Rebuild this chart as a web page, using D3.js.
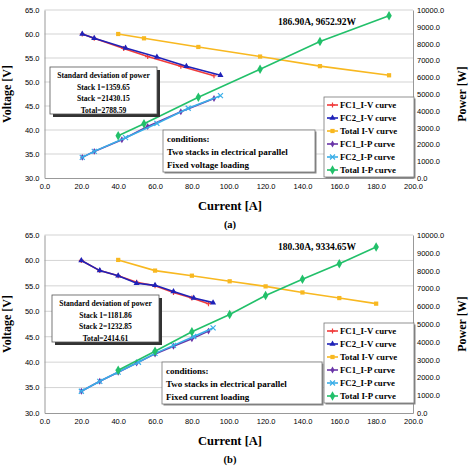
<!DOCTYPE html>
<html><head><meta charset="utf-8">
<script src="https://cdn.jsdelivr.net/npm/d3@7"></script>
<style>body{margin:0;background:#fff}</style>
</head><body>
<svg id="chart" width="474" height="470"></svg>
<script>
// panel (a): fixed voltage loading
const aFc1IV = [[20.5,60],[27,59.1],[43,57],[56,55.3],[74,53.3],[92,51.3]];
const aFc2IV = [[20.5,60],[27,59.1],[44,57.1],[61,55.2],[77,53.3],[95.5,51.4]];
const aTotIV = [[40,60],[54,59.1],[83.5,57.3],[117,55.3],[149.5,53.3],[187,51.4]];
const aFc1IP = [[20.5,1228],[27,1584],[42,2277],[56,3070],[74,3940],[92,4730]];
const aFc2IP = [[20.5,1228],[27,1584],[44,2400],[61,3250],[78,4150],[95.5,4900]];
const aTotIP = [[40,2515],[54,3230],[83.5,4810],[117,6475],[149.5,8120],[187,9660]];
// panel (b): fixed current loading
const bFc1IV = [[20,60],[30,58],[40,57],[50,55.7],[60,55],[70,53.7],[80,52.6],[89,51.5]];
const bFc2IV = [[20,60],[30,58],[40,57],[50,55.5],[60,55.1],[70,53.9],[81,52.6],[91.5,51.7]];
const bTotIV = [[40,60.1],[60,58],[80,57],[100.5,55.9],[120,54.9],[140,53.7],[160,52.6],[180,51.5]];
const bFc1IP = [[20,1220],[30,1780],[40,2290],[50,2810],[60,3320],[70,3750],[80,4165],[89,4600]];
const bFc2IP = [[20,1220],[30,1780],[40,2300],[51,2850],[60,3350],[70,3800],[81,4300],[91.5,4780]];
const bTotIP = [[40,2400],[60,3470],[80,4560],[100.5,5530],[120,6600],[140,7520],[160,8390],[180,9330]];

const seriesNames = ['FC1_I-V curve','FC2_I-V curve','Total I-V curve','FC1_I-P curve','FC2_I-P curve','Total I-P curve'];
const seriesColors = ['#f03c3c','#1f22b8','#f8b820','#6a35a8','#3aaee8','#22c06a'];
const seriesMarkers = ['cross','triangle','square','diamondS','x','diamond'];
const xTicks = d3.range(0, 201, 20);
const vTicks = d3.range(30, 66, 5);
const pTicks = d3.range(0, 10001, 1000);

const svg = d3.select('#chart');
const serif = 'Liberation Serif, Times New Roman, serif';

function drawPanel(top, bottom, series, note, std, cond, tag, legTop) {
	const x = d3.scaleLinear().domain([0, 200]).range([44.5, 413]);
	const yV = d3.scaleLinear().domain([30, 65]).range([bottom, top]);
	const yP = d3.scaleLinear().domain([0, 10000]).range([bottom, top]);
	const g = svg.append('g');

	// gridlines
	g.selectAll('.grid').data(vTicks.slice(1)).enter().append('line')
		.attr('x1', x(0)).attr('x2', x(200))
		.attr('y1', d => yV(d)).attr('y2', d => yV(d))
		.attr('stroke', '#c8c8c8').attr('stroke-width', 0.8);

	const ax = g.append('g').attr('transform', `translate(0,${bottom})`)
		.call(d3.axisBottom(x).tickValues(xTicks).tickFormat(d3.format('.1f')).tickSize(0).tickPadding(6));
	const al = g.append('g').attr('transform', `translate(${x(0)},0)`)
		.call(d3.axisLeft(yV).tickValues(vTicks).tickFormat(d3.format('.1f')).tickSize(0).tickPadding(5));
	const ar = g.append('g').attr('transform', `translate(${x(200)},0)`)
		.call(d3.axisRight(yP).tickValues(pTicks).tickFormat(d3.format('.1f')).tickSize(0).tickPadding(4));
	[ax, al, ar].forEach(a => {
		a.selectAll('path').attr('stroke', '#999');
		a.selectAll('text').attr('font-family', 'Liberation Sans, Arial').attr('font-size', 7.5).attr('fill', '#000');
	});

	const line = (ys) => d3.line().x(d => x(d[0])).y(d => ys(d[1]));
	series.forEach((data, i) => {
		const ys = i < 3 ? yV : yP;
		g.append('path').datum(data).attr('d', line(ys))
			.attr('fill', 'none').attr('stroke', seriesColors[i]).attr('stroke-width', 1.6);
		data.forEach(d => drawMarker(g, seriesMarkers[i], x(d[0]), ys(d[1]), seriesColors[i]));
	});

	g.append('text').attr('x', 278).attr('y', top + 15).text(note)
		.attr('font-family', serif).attr('font-weight', 'bold').attr('font-size', 9.5);

	// std box
	g.append('rect').attr('x', std.x + 3).attr('y', std.y + 3).attr('width', 107).attr('height', 47).attr('fill', '#333');
	g.append('rect').attr('x', std.x).attr('y', std.y).attr('width', 107).attr('height', 47)
		.attr('fill', '#fff').attr('stroke', '#555').attr('stroke-width', 0.8);
	std.lines.forEach((t, i) => g.append('text').attr('x', std.x + 53.5).attr('y', std.y + 11 + i * 11.5)
		.attr('text-anchor', 'middle').text(t)
		.attr('font-family', serif).attr('font-weight', 'bold').attr('font-size', 7.6));

	// conditions box
	g.append('rect').attr('x', cond.x + 1.5).attr('y', cond.y + 1.5).attr('width', cond.w).attr('height', 42).attr('fill', '#888');
	g.append('rect').attr('x', cond.x).attr('y', cond.y).attr('width', cond.w).attr('height', 42)
		.attr('fill', '#fff').attr('stroke', '#777').attr('stroke-width', 0.8);
	cond.lines.forEach((t, i) => g.append('text').attr('x', cond.x + 4).attr('y', cond.y + 12 + i * 13)
		.text(t).attr('font-family', serif).attr('font-weight', 'bold').attr('font-size', 9));

	// legend
	const lx = 324, lw = 90, lh = 80;
	g.append('rect').attr('x', lx + 1.5).attr('y', legTop + 1.5).attr('width', lw).attr('height', lh).attr('fill', '#888');
	g.append('rect').attr('x', lx).attr('y', legTop).attr('width', lw).attr('height', lh)
		.attr('fill', '#fff').attr('stroke', '#777').attr('stroke-width', 0.8);
	seriesNames.forEach((n, i) => {
		const yy = legTop + 8 + i * 13;
		g.append('line').attr('x1', lx + 3).attr('x2', lx + 14).attr('y1', yy).attr('y2', yy)
			.attr('stroke', seriesColors[i]).attr('stroke-width', 1.6);
		drawMarker(g, seriesMarkers[i], lx + 8.5, yy, seriesColors[i]);
		g.append('text').attr('x', lx + 16).attr('y', yy + 3).text(n)
			.attr('font-family', serif).attr('font-weight', 'bold').attr('font-size', 8.8);
	});

	// axis titles
	g.append('text').attr('x', 230).attr('y', bottom + 32).attr('text-anchor', 'middle').text('Current [A]')
		.attr('font-family', serif).attr('font-weight', 'bold').attr('font-size', 12.5);
	g.append('text').attr('x', 230).attr('y', bottom + 50).attr('text-anchor', 'middle').text(tag)
		.attr('font-family', serif).attr('font-weight', 'bold').attr('font-size', 10.5);
	g.append('text').attr('transform', `translate(11,${(top + bottom) / 2}) rotate(-90)`).attr('text-anchor', 'middle')
		.text('Voltage [V]').attr('font-family', serif).attr('font-weight', 'bold').attr('font-size', 12);
	g.append('text').attr('transform', `translate(466,${(top + bottom) / 2}) rotate(-90)`).attr('text-anchor', 'middle')
		.text('Power [W]').attr('font-family', serif).attr('font-weight', 'bold').attr('font-size', 12);
}

function drawMarker(g, type, cx, cy, c) {
	if (type === 'cross' || type === 'x') {
		const r = 2.5;
		const p = type === 'cross'
			? `M${cx - r},${cy}L${cx + r},${cy}M${cx},${cy - r}L${cx},${cy + r}`
			: `M${cx - r},${cy - r}L${cx + r},${cy + r}M${cx - r},${cy + r}L${cx + r},${cy - r}`;
		g.append('path').attr('d', p).attr('stroke', c).attr('stroke-width', 1.2);
		return;
	}
	const sym = {triangle: d3.symbolTriangle, square: d3.symbolSquare, diamondS: d3.symbolDiamond, diamond: d3.symbolDiamond}[type];
	const size = {triangle: 16, square: 18, diamondS: 14, diamond: 26}[type];
	g.append('path').attr('d', d3.symbol(sym, size)()).attr('transform', `translate(${cx},${cy})`).attr('fill', c);
}

drawPanel(10, 178, [aFc1IV, aFc2IV, aTotIV, aFc1IP, aFc2IP, aTotIP], '186.90A, 9652.92W',
	{x: 50, y: 67, lines: ['Standard deviation of power', 'Stack 1=1359.65', 'Stack =21430.15', 'Total=2788.59']},
	{x: 163, y: 130, w: 152, lines: ['conditions:', 'Two stacks in electrical parallel', 'Fixed voltage loading']},
	'(a)', 97);
drawPanel(235, 413, [bFc1IV, bFc2IV, bTotIV, bFc1IP, bFc2IP, bTotIP], '180.30A, 9334.65W',
	{x: 52, y: 295, lines: ['Standard deviation of power', 'Stack 1=1181.86', 'Stack 2=1232.85', 'Total=2414.61']},
	{x: 162, y: 362, w: 160, lines: ['conditions:', 'Two stacks in electrical parallel', 'Fixed current loading']},
	'(b)', 323);
</script>
</body></html>
